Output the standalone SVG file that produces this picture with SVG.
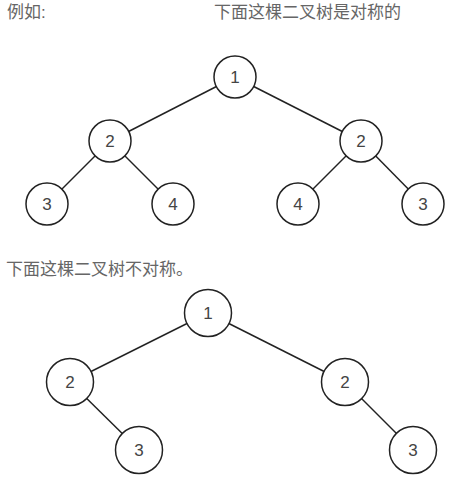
<svg xmlns="http://www.w3.org/2000/svg" width="474" height="503" viewBox="0 0 474 503">
<style>
.t{font-family:"Liberation Sans","Noto Sans CJK SC",sans-serif;font-size:17px;fill:#666}
.n circle{fill:#fff;stroke:#222;stroke-width:1.5}
.n text{font-family:"Liberation Sans",Arial,sans-serif;font-size:17px;fill:#444;text-anchor:middle;dominant-baseline:central}
.e line{stroke:#222;stroke-width:1.5}
</style>
<rect width="474" height="503" fill="#fff"/>
<text class="t" x="7" y="18">例如:</text>
<text class="t" x="214" y="18">下面这棵二叉树是对称的</text>
<text class="t" x="6" y="275">下面这棵二叉树不对称。</text>
<g id="connectors" class="e">
<line x1="235" y1="77" x2="110" y2="141"/>
<line x1="235" y1="77" x2="361" y2="141"/>
<line x1="110" y1="141" x2="47" y2="204"/>
<line x1="110" y1="141" x2="173" y2="204"/>
<line x1="361" y1="141" x2="298" y2="204"/>
<line x1="361" y1="141" x2="423" y2="204"/>
<line x1="208" y1="313" x2="70" y2="382"/>
<line x1="208" y1="313" x2="345" y2="382"/>
<line x1="70" y1="382" x2="139" y2="450"/>
<line x1="345" y1="382" x2="413" y2="450"/>
</g>
<g id="a1" class="n"><circle cx="235" cy="77" r="21"/><text x="235" y="77">1</text></g>
<g id="a2l" class="n"><circle cx="110" cy="141" r="21"/><text x="110" y="141">2</text></g>
<g id="a2r" class="n"><circle cx="361" cy="141" r="21"/><text x="361" y="141">2</text></g>
<g id="a3l" class="n"><circle cx="47" cy="204" r="21"/><text x="47" y="204">3</text></g>
<g id="a4l" class="n"><circle cx="173" cy="204" r="21"/><text x="173" y="204">4</text></g>
<g id="a4r" class="n"><circle cx="298" cy="204" r="21"/><text x="298" y="204">4</text></g>
<g id="a3r" class="n"><circle cx="423" cy="204" r="21"/><text x="423" y="204">3</text></g>
<g id="b1" class="n"><circle cx="208" cy="313" r="23.5"/><text x="208" y="313">1</text></g>
<g id="b2l" class="n"><circle cx="70" cy="382" r="23.5"/><text x="70" y="382">2</text></g>
<g id="b2r" class="n"><circle cx="345" cy="382" r="23.5"/><text x="345" y="382">2</text></g>
<g id="b3l" class="n"><circle cx="139" cy="450" r="23.5"/><text x="139" y="450">3</text></g>
<g id="b3r" class="n"><circle cx="413" cy="450" r="23.5"/><text x="413" y="450">3</text></g>
</svg>
